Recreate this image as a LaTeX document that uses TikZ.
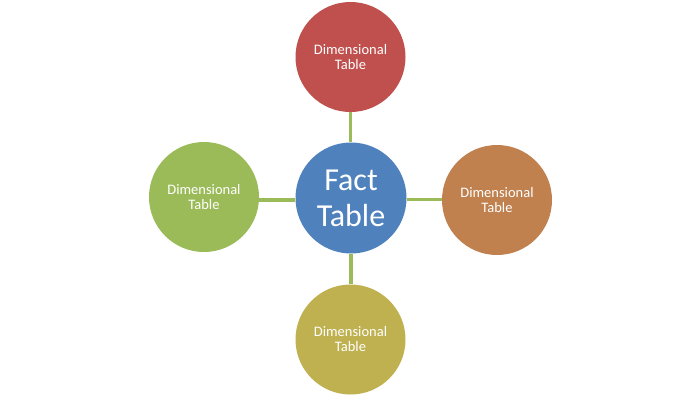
\documentclass[tikz,border=0pt]{standalone}
\usepackage{fontspec}
\setmainfont{Carlito}
\definecolor{cblue}{HTML}{4F81BD}
\definecolor{cred}{HTML}{C0504D}
\definecolor{corange}{HTML}{C0814F}
\definecolor{cgreen}{HTML}{9BBB59}
\definecolor{cgold}{HTML}{BFB150}
\definecolor{lgreen}{HTML}{9BBB59}
\tikzset{
  dim/.style={circle, minimum size=110pt, inner sep=0pt, text=white, align=center, font=\fontsize{14.5}{15}\selectfont},
  fact/.style={circle, minimum size=111pt, inner sep=0pt, fill=cblue, text=white, align=center, font=\fontsize{32}{36}\selectfont},
  link/.style={draw=lgreen, line width=3.5pt}
}
\begin{document}
\begin{tikzpicture}[x=1pt,y=-1pt]
\useasboundingbox (0,0) rectangle (700,400);
\fill[white] (0,0) rectangle (700,400);
\node[fact] (f) at (351,198) {Fact\\Table};
\node[dim, fill=cred] (t) at (350.5,57) {Dimensional\\Table};
\node[dim, fill=cgreen] (l) at (204,197) {Dimensional\\Table};
\node[dim, fill=corange] (r) at (497,200) {Dimensional\\Table};
\node[dim, fill=cgold] (b) at (350.5,339.5) {Dimensional\\Table};
\draw[link] (t.south) -- (t.south |- f.north);
\draw[link] (f.south) -- (f.south |- b.north);
\draw[link] (l.east |- 0,200) -- (f.west |- 0,200);
\draw[link] (f.east |- 0,199.5) -- (r.west |- 0,199.5);
\end{tikzpicture}
\end{document}
